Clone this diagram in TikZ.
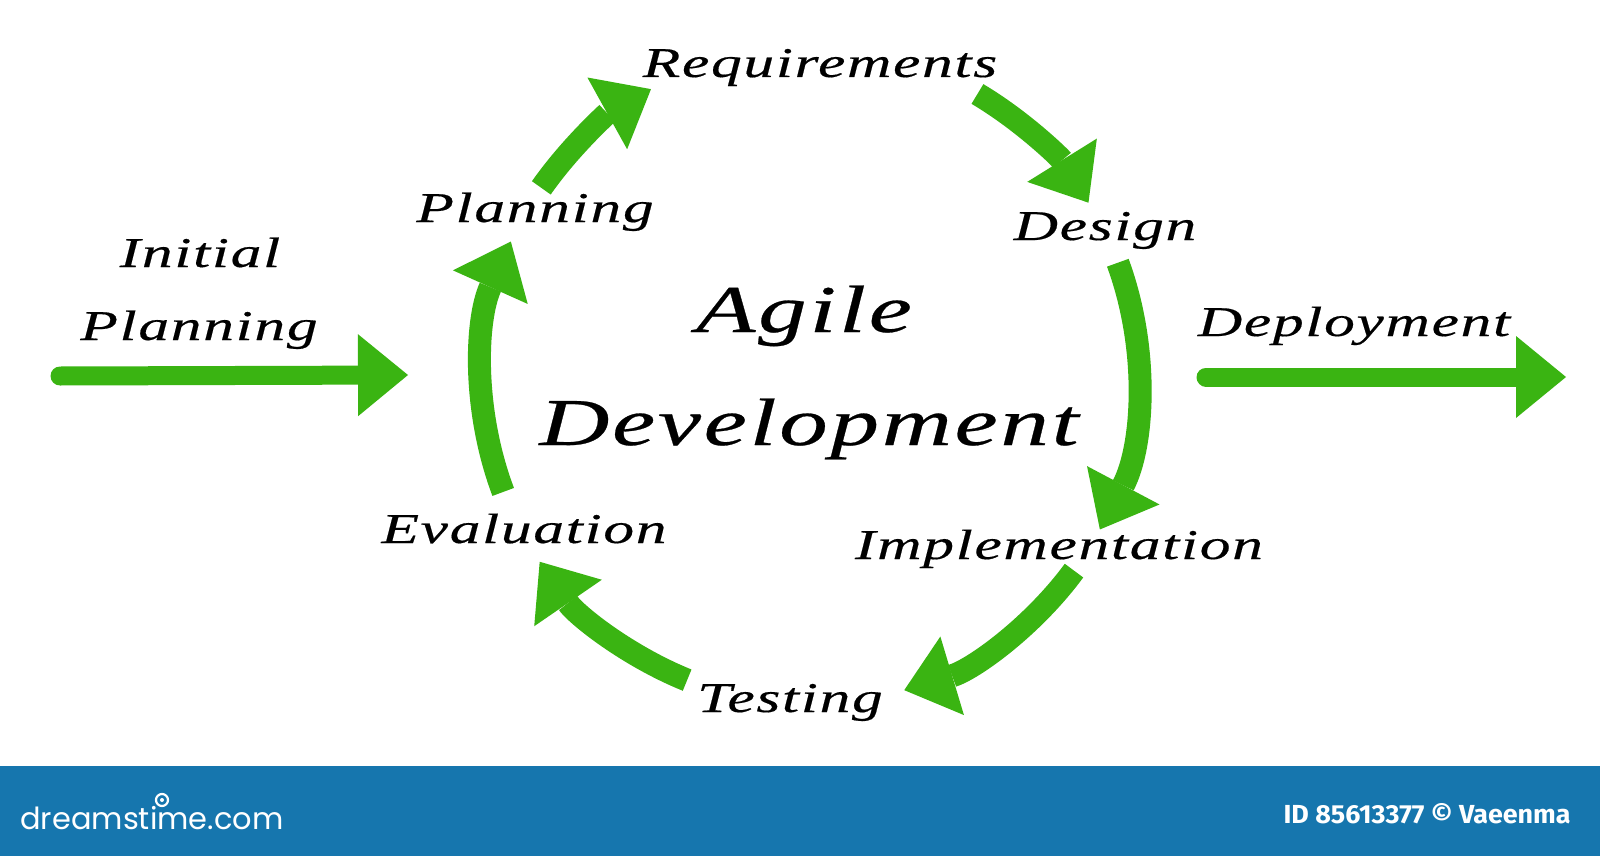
\documentclass[tikz,border=0pt]{standalone}
\usepackage{fontspec}
\usetikzlibrary{arrows.meta}
\newfontfamily\lblfont{Liberation Serif}[FakeStretch=1.45,LetterSpace=4,FakeBold=0.4]
\newfontfamily\logofont{Poppins}
\newfontfamily\idfont{Fira Sans}
\definecolor{agreen}{RGB}{58,180,18}
\definecolor{barblue}{RGB}{22,118,174}
\tikzset{
  lbl/.style={anchor=base, inner sep=0pt, font=\lblfont\itshape\fontsize{21.2pt}{24pt}\selectfont},
  title/.style={anchor=base, inner sep=0pt, font=\lblfont\itshape\fontsize{33.5pt}{38pt}\selectfont},
  cyc/.style={draw=agreen, line width=11.5pt, line cap=butt,
    -{Triangle[length=25pt,width=41pt,line width=0pt]}},
  flat/.style={draw=agreen, line width=9.5pt, line cap=round,
    -{Triangle[length=25pt,width=41pt,line width=0pt]}}
}
\begin{document}
\begin{tikzpicture}[x=0.5pt,y=0.5pt]
\fill[white] (0,0) rectangle (1600,-856);
\useasboundingbox (0,0) rectangle (1600,-856);

% labels
\node[lbl] (req)  at (820,-77)  {Requirements};
\node[lbl] (des)  at (1105,-240) {Design};
\node[lbl] (plan) at (535,-222) {Planning};
\node[lbl] (init) at (200,-267) {Initial};
\node[lbl] (iplan) at (199,-340) {Planning};
\node[title] (agile) at (804,-332) {Agile};
\node[title] (dev) at (809,-445) {Development};
\node[lbl] (depl) at (1354,-336) {Deployment};
\node[lbl] (eval) at (524,-543) {Evaluation};
\node[lbl] (impl) at (1059,-559) {Implementation};
\node[lbl] (test) at (790,-712) {Testing};

% cycle arrows
\coordinate (C) at (810,-376);
\path (C) ++(145:328) coordinate (s1);
\path (C) ++(59.3:328) coordinate (s2);
\path (C) ++(20.2:328) coordinate (s3);
\path (C) ++(-36.4:328) coordinate (s4);
\path (C) ++(-112:328) coordinate (s5);
\path (C) ++(-159.3:328) coordinate (s6);
\draw[cyc] (s1) arc[start angle=145, end angle=119, radius=328];
\draw[cyc] (s2) arc[start angle=59.3, end angle=31.9, radius=328];
\draw[cyc] (s3) arc[start angle=20.2, end angle=-27.9, radius=328];
\draw[cyc] (s4) arc[start angle=-36.4, end angle=-73.3, radius=328];
\draw[cyc] (s5) arc[start angle=-112, end angle=-145.5, radius=328];
\draw[cyc] (s6) arc[start angle=-159.3, end angle=-204.2, radius=328];

% straight arrows
\coordinate (l0) at (60,-376);
\coordinate (l1) at (408,-375);
\coordinate (r0) at (1206,-377);
\coordinate (r1) at (1566,-377);
\draw[flat] (l0) -- (l1);
\draw[flat] (r0) -- (r1);

% bottom bar
\fill[barblue] (0,-766) rectangle (1600,-856);
\node[anchor=base west, inner sep=0pt, text=white] (logo) at (20,-829)
  {\resizebox{131.5pt}{!}{\logofont dreamstime.com}};
\draw[white, line width=1.1pt] (162,-800) circle[radius=6];
\fill[white] (162,-800) circle[radius=2];
\node[anchor=base east, inner sep=0pt, text=white] (idtxt) at (1571,-823)
  {\resizebox{143.5pt}{10pt}{\idfont\bfseries ID 85613377 © Vaeenma}};
\end{tikzpicture}
\end{document}
